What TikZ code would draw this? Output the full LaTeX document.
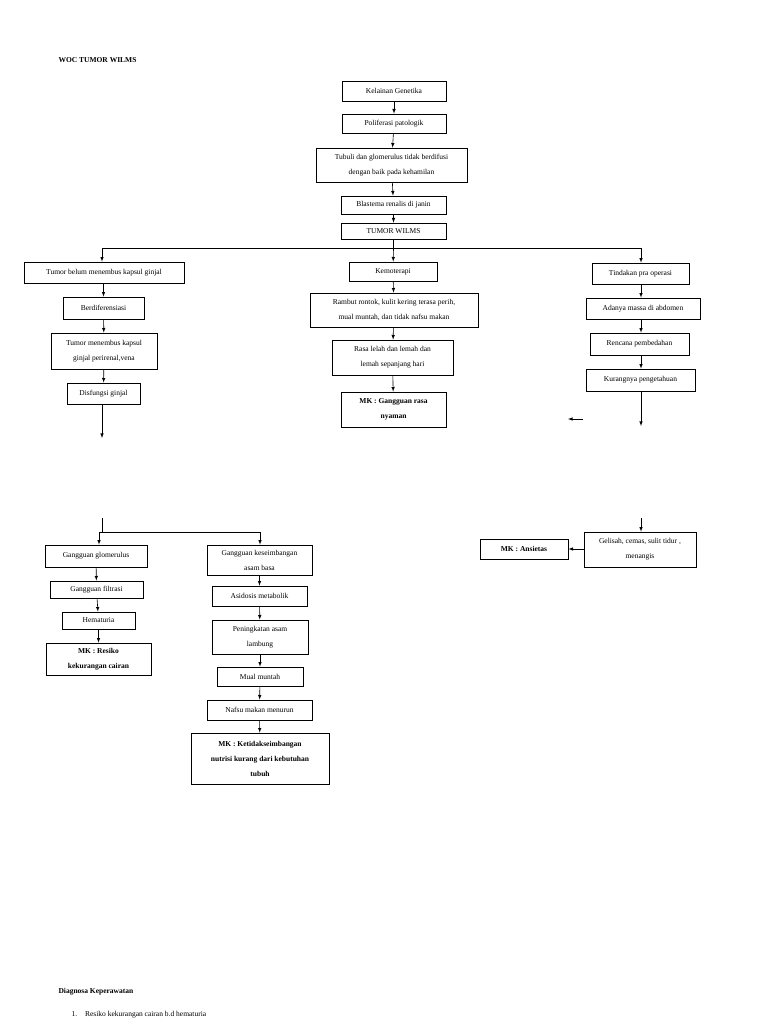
\documentclass[tikz,border=0pt]{standalone}
\usepackage{fontspec}
\setmainfont{Liberation Serif}
\begin{document}
\begin{tikzpicture}[x=1pt,y=-1pt,
 bx/.style={draw,line width=0.8pt,align=center,inner sep=0pt,font=\fontsize{7.5}{15}\selectfont},
 ar/.style={-latex,line width=0.6pt},
 ln/.style={line width=0.6pt}]
\useasboundingbox[fill=white] (0,0) rectangle (768,1024);
\newcommand{\bxat}[6]{\node[bx,minimum width=#4-#2,minimum height=#5-#3] (#1) at ({(#2+#4)/2},{(#3+#5)/2}) {#6};}
\node[anchor=west,font=\fontsize{7.5}{9}\selectfont\bfseries] (title) at (55,60) {WOC TUMOR WILMS};
\bxat{kg}{342}{81}{446}{101}{Kelainan Genetika}
\bxat{pp}{342}{114}{446}{133}{Poliferasi patologik}
\bxat{tg}{316}{148}{467}{182}{Tubuli dan glomerulus tidak berdifusi\\dengan baik pada kehamilan}
\bxat{bl}{341}{196}{446}{214}{Blastema renalis di janin}
\bxat{tw}{341}{223}{446}{239}{TUMOR WILMS}
\bxat{tb}{24}{262}{184}{283}{Tumor belum menembus kapsul ginjal}
\bxat{ke}{349}{262}{437}{281}{Kemoterapi}
\bxat{tp}{592}{263}{689}{284}{Tindakan pra operasi}
\bxat{be}{63}{297}{144}{319}{Berdiferensiasi}
\bxat{rr}{310}{293}{478}{327}{Rambut rontok, kulit kering terasa perih,\\mual muntah, dan tidak nafsu makan}
\bxat{tm}{51}{333}{157}{369}{Tumor menembus kapsul\\ginjal perirenal,vena}
\bxat{rl}{332}{340}{453}{375}{Rasa lelah dan lemah dan\\lemah sepanjang hari}
\bxat{dg}{67}{383}{140}{404}{Disfungsi ginjal}
\bxat{mkn}{341}{392}{446}{427}{\bfseries MK : Gangguan rasa\\\bfseries nyaman}
\bxat{am}{586}{298}{700}{319}{Adanya massa di abdomen}
\bxat{rp}{590}{333}{689}{355}{Rencana pembedahan}
\bxat{kp}{586}{369}{695}{391}{Kurangnya pengetahuan}
\bxat{gg}{45}{545}{147}{567}{Gangguan glomerulus}
\bxat{gk}{207}{545}{312}{575}{Gangguan keseimbangan\\asam basa}
\bxat{ge}{584}{532}{696}{567}{Gelisah, cemas, sulit tidur ,\\menangis}
\bxat{ma}{480}{539}{568}{559}{\bfseries MK : Ansietas}
\bxat{gf}{50}{581}{143}{598}{Gangguan filtrasi}
\bxat{he}{62}{612}{135}{629}{Hematuria}
\bxat{mr}{46}{643}{151}{675}{\bfseries MK : Resiko\\\bfseries kekurangan cairan}
\bxat{as}{212}{586}{307}{606}{Asidosis metabolik}
\bxat{pa}{212}{620}{308}{654}{Peningkatan asam\\lambung}
\bxat{mm}{217}{667}{303}{686}{Mual muntah}
\bxat{nm}{207}{700}{312}{720}{Nafsu makan menurun}
\bxat{mkt}{191}{733}{329}{784}{\bfseries MK : Ketidakseimbangan\\\bfseries nutrisi kurang dari kebutuhan\\\bfseries tubuh}
\draw[ar] (kg)--(pp); \draw[ar] (pp)--(tg); \draw[ar] (tg)--(bl); \draw[ar] (bl)--(tw);
\coordinate (hl) at (102,248); \coordinate (hr) at (641,248);
\draw[ln] (tw.south)--(tw.south|-hl); \draw[ln] (hl)--(hr);
\draw[ar] (hl)--(tb.north-|hl); \draw[ar] (tw.south|-hl)--(ke); \draw[ar] (hr)--(tp.north-|hr);
\draw[ar] (tb.south-|be)--(be); \draw[ar] (be)--(tm); \draw[ar] (tm)--(dg);
\coordinate (d1) at (102,438); \draw[ar] (dg.south-|d1)--(d1);
\draw[ar] (ke)--(rr); \draw[ar] (rr)--(rl); \draw[ar] (rl)--(mkn);
\draw[ar] (tp.south-|641,0)--(am.north-|641,0); \draw[ar] (am.south-|641,0)--(rp.north-|641,0); \draw[ar] (rp.south-|641,0)--(kp.north-|641,0);
\coordinate (k1) at (641,426); \draw[ar] (kp.south-|k1)--(k1);
\coordinate (sa) at (583,419); \coordinate (sb) at (568,419); \draw[ar] (sa)--(sb);
\coordinate (l0) at (102,518); \coordinate (l1) at (102,532); \coordinate (l2) at (99,532); \coordinate (l3) at (260,532);
\draw[ln] (l0)--(l1); \draw[ln] (l2)--(l3);
\draw[ar] (l2)--(gg.north-|l2); \draw[ar] (l3)--(gk.north-|l3);
\coordinate (r0) at (641,518); \draw[ar] (r0)--(ge.north-|r0);
\draw[ar] (ge.west|-ma)--(ma.east);
\draw[ar] (gg)--(gf); \draw[ar] (gf)--(he); \draw[ar] (he)--(mr);
\draw[ar] (gk)--(as); \draw[ar] (as)--(pa); \draw[ar] (pa)--(mm); \draw[ar] (mm)--(nm); \draw[ar] (nm)--(mkt);
\node[anchor=west,font=\fontsize{7.5}{9}\selectfont\bfseries] (dk) at (55,992) {Diagnosa Keperawatan};
\node[anchor=west,font=\fontsize{7.5}{9}\selectfont] (d1t) at (68,1015) {1.\hspace{8pt}Resiko kekurangan cairan b.d hematuria};
\end{tikzpicture}
\end{document}
